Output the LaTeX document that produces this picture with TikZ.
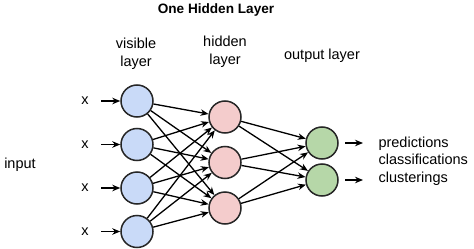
\documentclass[tikz,border=0pt]{standalone}
\usepackage{fontspec}
\setmainfont{Liberation Sans}
\usetikzlibrary{arrows.meta, positioning}
\usepackage{xcolor}
\definecolor{visblue}{HTML}{C9DAF8}
\definecolor{hidred}{HTML}{F4CCCC}
\definecolor{outgreen}{HTML}{B6D7A8}

\begin{document}
\begin{tikzpicture}[
  x=1pt, y=-1pt,
  neuron/.style={circle, draw=black!85, line width=1.5pt, minimum size=32pt, inner sep=0pt},
  vis/.style={neuron, fill=visblue},
  hid/.style={neuron, fill=hidred},
  outn/.style={neuron, fill=outgreen},
  lbl/.style={font=\fontsize{14.5}{18}\selectfont, align=center},
  arr/.style={-{Stealth[length=8pt, width=6.5pt]}, line width=1.3pt}
]
\useasboundingbox (0,0) rectangle (474,249);

\node[font=\fontsize{13.6}{16}\selectfont\bfseries] (title) at (216,10) {One Hidden Layer};
\node[lbl] (vislbl) at (136,54) {visible\\layer};
\node[lbl] (hidlbl) at (225,52) {hidden\\layer};
\node[lbl] (outlbl) at (322,56) {output layer};
\node[lbl] (input) at (20,165) {input};

% layers
\node[vis] (v1) at (137,101) {};
\node[vis, below=10pt of v1] (v2) {};
\node[vis, below=10pt of v2] (v3) {};
\node[vis, below=10pt of v3] (v4) {};
\node[hid] (h1) at (225,117) {};
\node[hid, below=12pt of h1] (h2) {};
\node[hid, below=12pt of h2] (h3) {};
\node[outn] (o1) at (322,143) {};
\node[outn, below=3.5pt of o1] (o2) {};

% inputs
\foreach \i in {1,...,4} {
  \node[lbl, left=28pt of v\i] (x\i) {x};
  \draw[arr, shorten <=9pt] (x\i) -- (v\i);
}

% connections
\foreach \i in {1,...,4}
  \foreach \j in {1,2,3}
    \draw[arr] (v\i) -- (h\j);
\foreach \j in {1,2,3}
  \foreach \k in {1,2}
    \draw[arr] (h\j) -- (o\k);

% outputs
\coordinate (p1) at (363,143);
\coordinate (p2) at (363,180);
\draw[arr, shorten <=6.5pt] (o1) -- (p1);
\draw[arr, shorten <=6.5pt] (o2) -- (p2);
\node[lbl, align=left, anchor=west, font=\fontsize{14.5}{17.5}\selectfont] (result) at (375,161) {predictions\\classifications\\clusterings};
\end{tikzpicture}
\end{document}
